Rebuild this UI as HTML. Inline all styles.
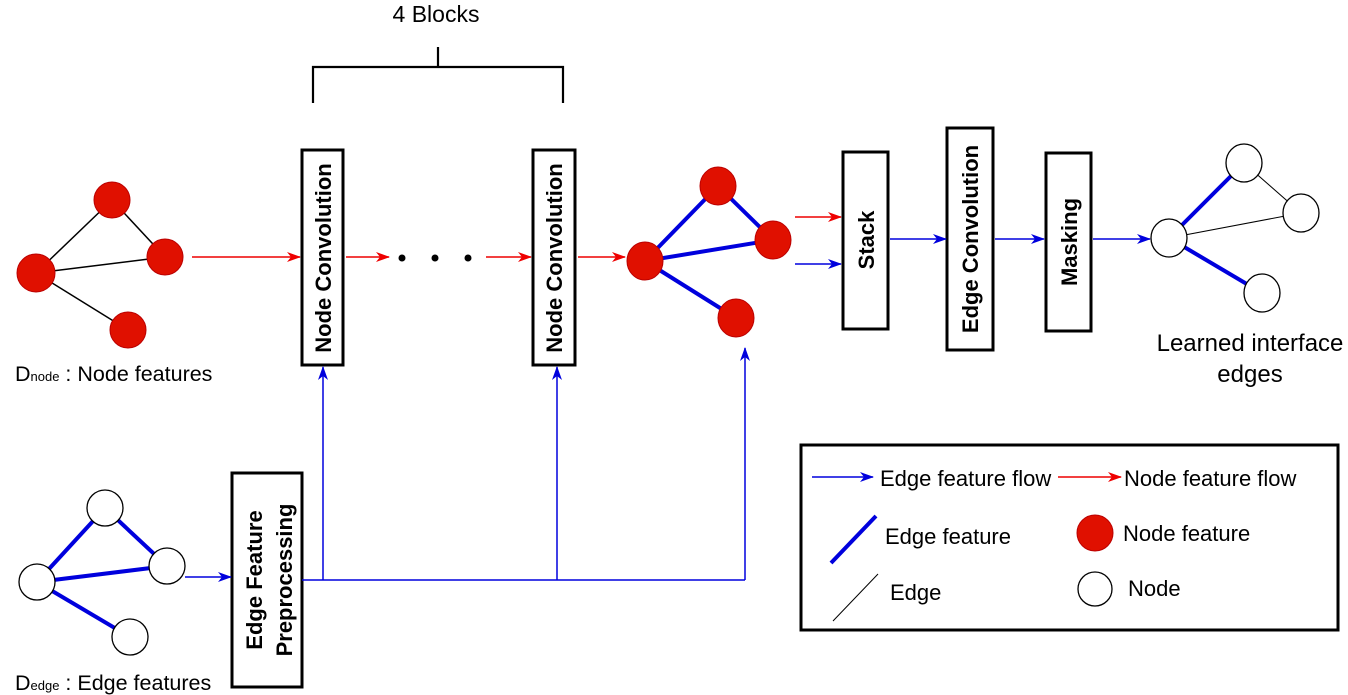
<!DOCTYPE html>
<html><head><meta charset="utf-8"><style>body{margin:0;background:#fff}svg{display:block}text{font-family:"Liberation Sans",sans-serif}</style></head><body>
<svg width="1348" height="695" viewBox="0 0 1348 695" xmlns="http://www.w3.org/2000/svg">
<defs>
<marker id="r" markerWidth="14" markerHeight="12" refX="13" refY="6" orient="auto" markerUnits="userSpaceOnUse"><path d="M0,1 L14,6 L0,11 L4,6z" fill="#e00"/></marker>
<marker id="b" markerWidth="14" markerHeight="12" refX="13" refY="6" orient="auto" markerUnits="userSpaceOnUse"><path d="M0,1 L14,6 L0,11 L4,6z" fill="#00d"/></marker>
</defs>
<g stroke="#000" stroke-width="2.2" fill="none">
<path d="M313,103 V67 H563 V103 M438,67 V47"/>
</g>
<text x="436" y="22" font-size="23" text-anchor="middle">4 Blocks</text>
<g stroke="#000" stroke-width="1.5"><line x1="36" y1="273" x2="112" y2="200"/><line x1="112" y1="200" x2="165" y2="257"/><line x1="36" y1="273" x2="165" y2="257"/><line x1="36" y1="273" x2="128" y2="330"/></g>
<g fill="#e01000" stroke="#b00" stroke-width="1"><circle cx="112" cy="200" r="18"/><circle cx="165" cy="257" r="18"/><circle cx="36" cy="273" r="19"/><circle cx="128" cy="330" r="18"/></g>
<text x="15" y="381" font-size="21.5">D<tspan font-size="13">node</tspan> : Node features</text>
<g stroke="#e00" stroke-width="1.5" fill="none">
<line x1="192" y1="257" x2="300" y2="257" marker-end="url(#r)"/>
<line x1="346" y1="257" x2="389" y2="257" marker-end="url(#r)"/>
<line x1="486" y1="257" x2="531" y2="257" marker-end="url(#r)"/>
<line x1="578" y1="257" x2="625" y2="257" marker-end="url(#r)"/>
<line x1="795" y1="217" x2="841" y2="217" marker-end="url(#r)"/>
</g>
<g fill="#000"><circle cx="402" cy="258" r="3.5"/><circle cx="435" cy="258" r="3.5"/><circle cx="468" cy="258" r="3.5"/></g>
<g fill="#fff" stroke="#000" stroke-width="3">
<rect x="302" y="150" width="41" height="215"/>
<rect x="533" y="150" width="42" height="215"/>
<rect x="843" y="152" width="45" height="177"/>
<rect x="947" y="128" width="46" height="222"/>
<rect x="1046" y="153" width="45" height="178"/>
<rect x="232" y="473" width="70" height="214"/>
</g>
<g font-size="22" font-weight="bold" text-anchor="middle">
<text transform="translate(331,258) rotate(-90)">Node Convolution</text>
<text transform="translate(562,258) rotate(-90)">Node Convolution</text>
<text transform="translate(874,240) rotate(-90)">Stack</text>
<text transform="translate(978,239) rotate(-90)">Edge Convolution</text>
<text transform="translate(1077,242) rotate(-90)">Masking</text>
<text transform="translate(262,580) rotate(-90)">Edge Feature</text>
<text transform="translate(292,580) rotate(-90)">Preprocessing</text>
</g>
<g stroke="#00d" stroke-width="4"><line x1="645" y1="261" x2="718" y2="186"/><line x1="718" y1="186" x2="773" y2="240"/><line x1="645" y1="261" x2="773" y2="240"/><line x1="645" y1="261" x2="736" y2="318"/></g>
<g fill="#e01000" stroke="#b00" stroke-width="1"><ellipse cx="718" cy="186" rx="18" ry="19"/><ellipse cx="773" cy="240" rx="18" ry="19"/><ellipse cx="645" cy="261" rx="18" ry="19"/><ellipse cx="736" cy="318" rx="18" ry="19"/></g>
<g stroke="#00d" stroke-width="1.5" fill="none">
<line x1="795" y1="264" x2="841" y2="264" marker-end="url(#b)"/>
<line x1="890" y1="239" x2="946" y2="239" marker-end="url(#b)"/>
<line x1="995" y1="239" x2="1044" y2="239" marker-end="url(#b)"/>
<line x1="1093" y1="239" x2="1150" y2="239" marker-end="url(#b)"/>
<line x1="185" y1="577" x2="231" y2="577" marker-end="url(#b)"/>
<path d="M302,580 H745"/>
<line x1="323" y1="580" x2="323" y2="367" marker-end="url(#b)"/>
<line x1="557" y1="580" x2="557" y2="367" marker-end="url(#b)"/>
<line x1="745" y1="580" x2="745" y2="348" marker-end="url(#b)"/>
<line x1="812" y1="477" x2="873" y2="477" marker-end="url(#b)"/>
</g>
<line x1="1058" y1="477" x2="1121" y2="477" stroke="#e00" stroke-width="1.5" marker-end="url(#r)"/>
<g stroke="#00d" stroke-width="4"><line x1="1169" y1="238" x2="1244" y2="163"/><line x1="1169" y1="238" x2="1262" y2="293"/></g>
<g stroke="#000" stroke-width="1"><line x1="1244" y1="163" x2="1301" y2="213"/><line x1="1169" y1="238" x2="1301" y2="213"/></g>
<g fill="#fff" stroke="#000" stroke-width="1.3"><ellipse cx="1244" cy="163" rx="18" ry="19"/><ellipse cx="1301" cy="213" rx="18" ry="19"/><ellipse cx="1169" cy="238" rx="18" ry="19"/><ellipse cx="1262" cy="293" rx="18" ry="19"/></g>
<g font-size="24" text-anchor="middle"><text x="1250" y="351">Learned interface</text><text x="1250" y="382">edges</text></g>
<g stroke="#00d" stroke-width="4"><line x1="37" y1="582" x2="105" y2="508"/><line x1="105" y1="508" x2="167" y2="566"/><line x1="37" y1="582" x2="167" y2="566"/><line x1="37" y1="582" x2="130" y2="637"/></g>
<g fill="#fff" stroke="#000" stroke-width="1.3"><circle cx="105" cy="508" r="18"/><circle cx="167" cy="566" r="18"/><circle cx="37" cy="582" r="18"/><circle cx="130" cy="637" r="18"/></g>
<text x="15" y="690" font-size="21.5">D<tspan font-size="13">edge</tspan> : Edge features</text>
<rect x="801" y="445" width="537" height="185" fill="none" stroke="#000" stroke-width="3"/>
<g font-size="22">
<text x="880" y="486">Edge feature flow</text>
<text x="1124" y="486">Node feature flow</text>
<text x="885" y="544">Edge feature</text>
<text x="1123" y="541">Node feature</text>
<text x="890" y="600">Edge</text>
<text x="1128" y="596">Node</text>
</g>
<line x1="831" y1="563" x2="876" y2="516" stroke="#00d" stroke-width="4"/>
<line x1="833" y1="621" x2="878" y2="574" stroke="#000" stroke-width="1"/>
<circle cx="1095" cy="533" r="18" fill="#e01000" stroke="#b00"/>
<circle cx="1095" cy="589" r="17" fill="#fff" stroke="#000" stroke-width="1.3"/>
</svg>
</body></html>
